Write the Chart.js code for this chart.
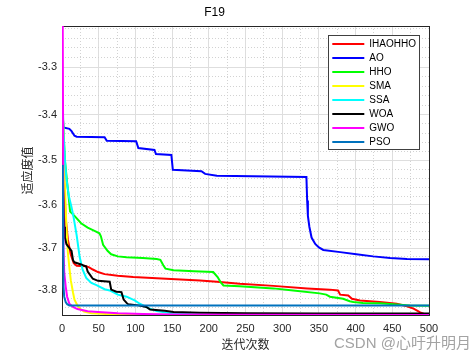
<!DOCTYPE html>
<html>
<head>
<meta charset="utf-8">
<script src="https://cdn.jsdelivr.net/npm/chart.js@4.4.1/dist/chart.umd.min.js"></script>
<style>
  html, body { margin: 0; padding: 0; background: #fff; }
  #wrap { position: relative; width: 474px; height: 355px; }
  #wm { position: absolute; left: 334px; top: 331px; font: 15px "Liberation Sans", "Noto Sans CJK SC", sans-serif; color: #a3a3a3; white-space: nowrap; }
</style>
</head>
<body>
<div id="wrap">
  <canvas id="c" width="474" height="355"></canvas>
  <div id="wm">CSDN @心吁升明月</div>
</div>
<script>
// ---- data ----
const seriesNames = ['IHAOHHO', 'AO', 'HHO', 'SMA', 'SSA', 'WOA', 'GWO', 'PSO'];
const seriesColors = ['#ff0000', '#0000ff', '#00ff00', '#ffff00', '#00ffff', '#000000', '#ff00ff', '#0072bd'];

const ihaohhoX = [1, 3, 5, 8, 12, 16, 20, 33, 37, 42, 49, 58, 76, 97, 142, 188, 211, 242, 288, 334, 365, 376, 379, 390, 395, 406, 433, 456, 470, 479, 488, 495, 500];
const ihaohhoY = [-3.42, -3.55, -3.63, -3.68, -3.715, -3.735, -3.741, -3.742, -3.745, -3.750, -3.756, -3.761, -3.765, -3.768, -3.772, -3.776, -3.779, -3.784, -3.789, -3.795, -3.798, -3.800, -3.810, -3.812, -3.820, -3.824, -3.828, -3.832, -3.838, -3.844, -3.853, -3.858, -3.859];

const aoX = [1, 2, 10, 13, 17, 20, 58, 61, 101, 104, 126, 128, 149, 151, 190, 195, 211, 333, 334, 335, 337, 340, 345, 350, 356, 379, 401, 424, 447, 470, 500];
const aoY = [-3.40, -3.428, -3.431, -3.436, -3.446, -3.448, -3.449, -3.457, -3.458, -3.473, -3.477, -3.486, -3.488, -3.521, -3.524, -3.530, -3.534, -3.537, -3.59, -3.625, -3.65, -3.675, -3.69, -3.698, -3.704, -3.709, -3.714, -3.719, -3.723, -3.725, -3.726];

const hhoX = [1, 4, 7, 9, 11, 17, 26, 35, 45, 51, 53, 56, 62, 67, 76, 88, 110, 129, 134, 138, 141, 152, 180, 206, 212, 216, 220, 242, 288, 315, 351, 360, 365, 383, 392, 397, 410, 433, 456, 474, 500];
const hhoY = [-3.40, -3.50, -3.55, -3.58, -3.615, -3.625, -3.642, -3.652, -3.660, -3.665, -3.672, -3.692, -3.706, -3.714, -3.719, -3.721, -3.723, -3.725, -3.727, -3.740, -3.748, -3.752, -3.754, -3.756, -3.768, -3.780, -3.788, -3.790, -3.795, -3.800, -3.807, -3.810, -3.815, -3.820, -3.826, -3.828, -3.830, -3.831, -3.834, -3.836, -3.837];

const smaX = [1, 2, 4, 6, 8, 10, 12, 15, 17, 21, 25, 30, 40, 60, 100, 200, 500];
const smaY = [-3.38, -3.45, -3.56, -3.65, -3.71, -3.745, -3.776, -3.805, -3.822, -3.836, -3.845, -3.851, -3.855, -3.857, -3.8585, -3.859, -3.859];

const ssaX = [1, 2, 4, 6, 8, 10, 13, 16, 20, 24, 28, 33, 40, 47, 58, 65, 76, 88, 99, 106, 118, 129, 140, 151, 175, 200, 300, 500];
const ssaY = [-3.37, -3.44, -3.50, -3.54, -3.565, -3.585, -3.605, -3.63, -3.67, -3.72, -3.75, -3.77, -3.782, -3.787, -3.797, -3.800, -3.810, -3.815, -3.824, -3.832, -3.843, -3.850, -3.853, -3.855, -3.857, -3.858, -3.8588, -3.859];

const woaX = [1, 2, 3, 4, 6, 8, 13, 15, 17, 26, 33, 35, 38, 42, 49, 65, 67, 74, 81, 84, 88, 90, 104, 115, 120, 140, 152, 188, 250, 350, 500];
const woaY = [-3.52, -3.60, -3.65, -3.675, -3.69, -3.695, -3.706, -3.728, -3.733, -3.738, -3.743, -3.755, -3.762, -3.772, -3.777, -3.779, -3.798, -3.803, -3.804, -3.822, -3.830, -3.833, -3.836, -3.840, -3.846, -3.849, -3.852, -3.854, -3.855, -3.856, -3.856];

const gwoX = [1, 2, 3, 5, 7, 10, 15, 21, 35, 49, 76, 110, 150, 250, 500];
const gwoY = [-3.215, -3.70, -3.756, -3.79, -3.815, -3.832, -3.840, -3.845, -3.850, -3.852, -3.855, -3.857, -3.858, -3.8588, -3.8592];

const psoX = [1, 2, 3, 5, 7, 10, 500];
const psoY = [-3.51, -3.79, -3.815, -3.828, -3.833, -3.836, -3.836];

const xTickStep = 50, xMinorStep = 25, xMin = 0, xMax = 500;
const yTickStep = 0.1, yMinorStep = 0.02, yMin = -3.8594, yMax = -3.215;

const seriesX = [ihaohhoX, aoX, hhoX, smaX, ssaX, woaX, gwoX, psoX];
const seriesY = [ihaohhoY, aoY, hhoY, smaY, ssaY, woaY, gwoY, psoY];

// ---- a log-spaced scale for negative values (as in the reference axis) ----
class NegLogScale extends Chart.LinearScale {
  static id = 'negLog';
  static defaults = {};
  getPixelForValue(value) {
    const a = Math.log(-this.min), b = Math.log(-this.max);
    return this.getPixelForDecimal((Math.log(-value) - a) / (b - a));
  }
  getValueForPixel(pixel) {
    const a = Math.log(-this.min), b = Math.log(-this.max);
    return -Math.exp(a + this.getDecimalForPixel(pixel) * (b - a));
  }
}
Chart.register(NegLogScale);

const FONT = '"Liberation Sans", Arial, sans-serif';
const CJK = '"Noto Sans CJK SC", sans-serif';
const AX = '#262626';
const MAJOR = '#dedede';
const MINOR = '#d2d2d2';

const legendBox = {
  id: 'legendBox',
  afterLayout(chart) {
    const lg = chart.legend, ca = chart.chartArea;
    if (!lg) return;
    lg.left = ca.right - 100.7;
    lg.top = ca.top + 9;
    lg.right = ca.right - 1;
    lg.bottom = ca.bottom - 1;
    lg.width = lg.right - lg.left;
    lg.height = lg.bottom - lg.top;
    if (!lg.__wrapped) {
      const orig = lg.draw;
      lg.draw = function (area) {
        const ctx = this.ctx;
        const col = (this.columnSizes && this.columnSizes[0]) || { width: 84, height: 112 };
        const w = col.width + 7, h = col.height + 2;
        ctx.save();
        ctx.fillStyle = '#ffffff';
        ctx.fillRect(this.left, this.top, w, h);
        ctx.strokeStyle = '#404040';
        ctx.lineWidth = 1;
        ctx.strokeRect(Math.round(this.left) + 0.5, Math.round(this.top) + 0.5, Math.round(w), Math.round(h));
        ctx.restore();
        orig.call(this, area);
      };
      lg.__wrapped = true;
    }
  }
};

const datasets = seriesNames.map((name, i) => ({
  label: name,
  data: seriesX[i].map((x, j) => ({ x: x, y: seriesY[i][j] })),
  borderColor: seriesColors[i],
  backgroundColor: seriesColors[i],
  borderWidth: 2,
  pointRadius: 0,
  pointHoverRadius: 0,
  tension: 0,
  pointStyle: 'line',
  order: seriesNames.length - i,
  xAxisID: 'x',
  yAxisID: 'y'
}));

new Chart(document.getElementById('c'), {
  type: 'line',
  data: { datasets },
  plugins: [legendBox],
  options: {
    responsive: false,
    animation: false,
    devicePixelRatio: 1,
    layout: { padding: { left: 0, right: 45, top: 0, bottom: 0 } },
    plugins: {
      title: {
        display: true, text: 'F19', color: '#000',
        font: { family: FONT, size: 12, weight: 'normal' },
        padding: { top: 5, bottom: 6.6 }
      },
      legend: {
        display: true, position: 'chartArea', align: 'start',
        labels: {
          usePointStyle: true, pointStyleWidth: 32, padding: 4,
          color: '#000', font: { family: FONT, size: 10 },
          sort: (a, b) => a.datasetIndex - b.datasetIndex
        }
      },
      tooltip: { enabled: false }
    },
    scales: {
      x: {
        type: 'linear', position: 'bottom', min: xMin, max: xMax,
        ticks: { stepSize: xTickStep, color: AX, font: { family: FONT, size: 11 }, padding: 7, maxRotation: 0 },
        grid: { color: MAJOR, drawTicks: false },
        border: { color: AX, width: 1 },
        title: { display: true, text: '迭代次数', color: AX, font: { family: CJK, size: 12 }, padding: { top: 0, bottom: 3.8 } },
        afterFit: (s) => { s.height = 40; }
      },
      xMinor: {
        type: 'linear', position: 'bottom', min: xMin, max: xMax,
        ticks: { display: false, stepSize: xMinorStep },
        grid: { color: (c) => (c.tick && c.tick.value % xTickStep === 0) ? 'rgba(0,0,0,0)' : MINOR, drawTicks: false },
        border: { display: false, dash: [1, 2] },
        afterFit: (s) => { s.height = 0; }
      },
      y: {
        type: 'negLog', position: 'left', min: yMin, max: yMax,
        ticks: { stepSize: yTickStep, includeBounds: false, color: AX, font: { family: FONT, size: 11 }, padding: 5,
                 callback: (v) => Number(v).toFixed(1) },
        grid: { color: MAJOR, drawTicks: false },
        border: { color: AX, width: 1 },
        title: { display: true, text: '适应度值', color: AX, font: { family: CJK, size: 12 }, padding: { top: 19.8, bottom: 0 } },
        afterFit: (s) => { s.width = 62; }
      },
      yMinor: {
        type: 'negLog', position: 'left', min: yMin, max: yMax,
        ticks: { display: false, stepSize: yMinorStep, includeBounds: false },
        grid: {
          color: (c) => {
            if (!c.tick) return MINOR;
            const t = c.tick.value * 10;
            return Math.abs(t - Math.round(t)) < 1e-6 ? 'rgba(0,0,0,0)' : MINOR;
          },
          drawTicks: false
        },
        border: { display: false, dash: [1, 2] },
        afterFit: (s) => { s.width = 0; }
      },
      xTop: {
        type: 'linear', position: 'top', min: 0, max: 1,
        ticks: { display: false }, grid: { display: false, drawTicks: false },
        border: { display: true, color: AX, width: 1 },
        afterFit: (s) => { s.height = 0; }
      },
      yRight: {
        type: 'linear', position: 'right', min: 0, max: 1,
        ticks: { display: false }, grid: { display: false, drawTicks: false },
        border: { display: true, color: AX, width: 1 },
        afterFit: (s) => { s.width = 0; }
      }
    }
  }
});
</script>
</body>
</html>
